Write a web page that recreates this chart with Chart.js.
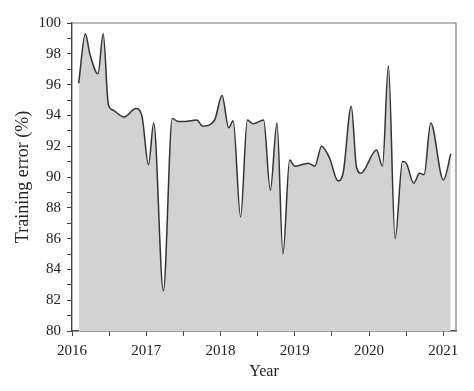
<!DOCTYPE html>
<html>
<head>
<meta charset="utf-8">
<script src="https://cdn.jsdelivr.net/npm/chart.js@4/dist/chart.umd.min.js"></script>
<style>
    html, body { margin: 0; padding: 0; background: #fff; }
    #wrap { width: 474px; height: 391px; }
</style>
</head>
<body>
<div id="wrap"><canvas id="errChart"></canvas></div>
<script>
// Training error over time
const years = [
    2016.09, 2016.18, 2016.24, 2016.35, 2016.42, 2016.49, 2016.55, 2016.70, 2016.86, 2016.94,
    2017.03, 2017.10, 2017.23, 2017.35, 2017.43, 2017.52, 2017.68, 2017.76, 2017.92, 2018.02,
    2018.11, 2018.17, 2018.27, 2018.36, 2018.44, 2018.58, 2018.67, 2018.76, 2018.84, 2018.93,
    2019.00, 2019.18, 2019.27, 2019.36, 2019.47, 2019.58, 2019.65, 2019.76, 2019.83, 2019.89,
    2020.10, 2020.18, 2020.26, 2020.35, 2020.45, 2020.50, 2020.60, 2020.68, 2020.74, 2020.83,
    2021.00, 2021.10
];
const trainingError = [
    96.1, 99.3, 98.0, 96.7, 99.3, 94.7, 94.35, 93.9, 94.45, 94.0,
    90.8, 93.5, 82.6, 93.8, 93.6, 93.6, 93.7, 93.3, 93.7, 95.3,
    93.2, 93.65, 87.4, 93.7, 93.45, 93.7, 89.15, 93.5, 85.0, 91.1,
    90.7, 90.9, 90.7, 92.0, 91.2, 89.75, 90.25, 94.6, 90.65, 90.25,
    91.75, 90.7, 97.2, 86.0, 91.0, 90.9, 89.6, 90.25, 90.15, 93.5,
    89.8, 91.5
];
const yearTicks = [2016, 2017, 2018, 2019, 2020, 2021];

const serif = 'Liberation Serif';

const frameBox = {
    id: 'frameBox',
    afterDraw(chart) {
        const { ctx, chartArea: a } = chart;
        ctx.save();
        ctx.strokeStyle = '#777';
        ctx.lineWidth = 1.2;
        ctx.beginPath();
        ctx.moveTo(a.left, a.top);
        ctx.lineTo(a.right, a.top);
        ctx.lineTo(a.right, a.bottom);
        ctx.stroke();
        ctx.restore();
    }
};

new Chart(document.getElementById('errChart').getContext('2d'), {
    type: 'line',
    data: {
        datasets: [{
            data: years.map((x, i) => ({ x: x, y: trainingError[i] })),
            borderColor: '#333',
            borderWidth: 1.5,
            backgroundColor: '#d2d2d2',
            fill: 'start',
            pointRadius: 0,
            cubicInterpolationMode: 'monotone'
        }]
    },
    options: {
        responsive: true,
        maintainAspectRatio: false,
        animation: false,
        layout: { padding: { top: 23, right: 18, left: 0, bottom: 6 } },
        plugins: {
            legend: { display: false },
            tooltip: { enabled: false }
        },
        scales: {
            x: {
                type: 'linear',
                min: 2016,
                max: 2021.17,
                afterFit: s => { s.height = 54; },
                border: { color: '#444', width: 1.4 },
                grid: { drawOnChartArea: false, tickLength: 5, tickColor: '#444' },
                ticks: {
                    stepSize: 0.5,
                    includeBounds: false,
                    padding: 6,
                    maxRotation: 0,
                    autoSkip: false,
                    color: '#222',
                    font: { family: serif, size: 15 },
                    callback: v => yearTicks.includes(v) ? String(v) : ''
                },
                title: {
                    display: true,
                    text: 'Year',
                    color: '#222',
                    font: { family: serif, size: 16 },
                    padding: { top: 0 }
                }
            },
            y: {
                min: 80,
                max: 100,
                afterFit: s => { s.width = 72; },
                border: { color: '#444', width: 1.4 },
                grid: { drawOnChartArea: false, tickLength: 5, tickColor: '#444' },
                ticks: {
                    stepSize: 1,
                    padding: 6,
                    autoSkip: false,
                    color: '#222',
                    font: { family: serif, size: 15 },
                    callback: v => v % 2 === 0 ? String(v) : ''
                },
                title: {
                    display: true,
                    text: 'Training error (%)',
                    color: '#222',
                    font: { family: serif, size: 18 },
                    padding: { top: 12, bottom: 4 }
                }
            }
        }
    },
    plugins: [frameBox]
});
</script>
</body>
</html>
